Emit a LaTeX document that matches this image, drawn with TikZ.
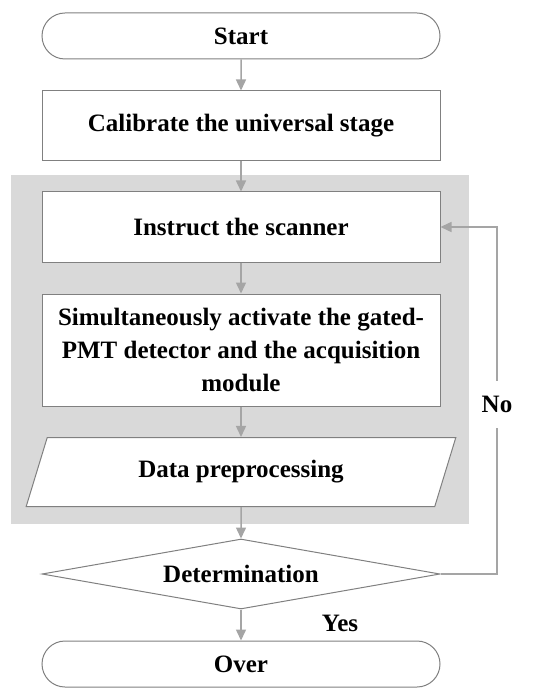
\documentclass[tikz,border=0pt]{standalone}
\usepackage{fontspec}
\setmainfont{Liberation Serif}
\usetikzlibrary{shapes.geometric,shapes.misc,arrows.meta,positioning,calc,backgrounds}
\definecolor{BoxLine}{HTML}{808080}
\definecolor{ArrLine}{HTML}{A5A5A5}
\definecolor{Shade}{HTML}{D9D9D9}

\begin{document}
\begin{tikzpicture}[x=1pt, y=1pt,
    font=\fontsize{25}{33}\selectfont\bfseries,
    box/.style={draw=BoxLine, line width=1pt, fill=white,
        minimum width=398pt, inner sep=0pt, align=center},
    terminal/.style={box, rounded rectangle, minimum height=46pt},
    process/.style={box, rectangle, minimum height=70pt},
    arr/.style={draw=ArrLine, line width=1.5pt,
        -{Triangle[length=11pt,width=10pt]}}]
    \useasboundingbox (0,0) rectangle (550,-700);

    % shaded block round the loop body
    \fill[Shade] (11,-175) rectangle (469,-524);

    \node[terminal] (start) at (241,-36) {Start};
    \node[process] (calib) at (241,-126) {Calibrate the universal stage};
    \node[process] (instr) at (241,-227) {Instruct the scanner};
    \node[process, minimum height=112pt] (activ) at (241,-350)
        {Simultaneously activate the gated-\\PMT detector and the acquisition\\module};
    \node[box, trapezium, trapezium left angle=64, trapezium right angle=116,
          trapezium stretches=true, minimum width=431pt, minimum height=69pt]
        (prep) at (241,-472) {Data preprocessing};
    \node[box, diamond, aspect=5.7, minimum height=70pt] (judge) at (241,-574) {Determination};
    \node[terminal] (over) at (241,-664) {Over};

    \draw[arr] (start) -- (calib);
    \draw[arr] (calib) -- (instr);
    \draw[arr] (instr) -- (activ);
    \draw[arr] (activ) -- (prep);
    \draw[arr] (prep) -- (judge);
    \draw[arr] (judge) -- (over);
    \draw[arr] (judge.east) -- (judge.east -| 497,0) |- (instr.east);

    \node[fill=white, minimum width=45pt, minimum height=47pt] (no) at (497,-404) {No};
    \node (yes) at (340,-623) {Yes};
\end{tikzpicture}
\end{document}
